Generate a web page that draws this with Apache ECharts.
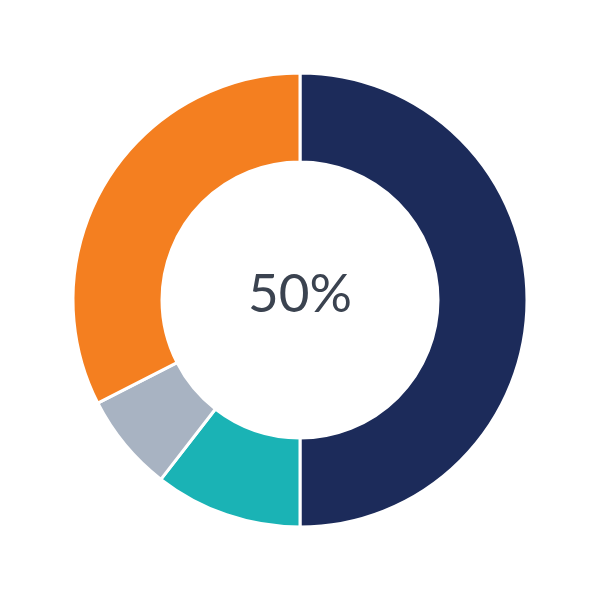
<!DOCTYPE html>
<html>
<head>
<meta charset="utf-8">
<script src="https://cdn.jsdelivr.net/npm/echarts@6/dist/echarts.min.js"></script>
<style>
    html, body { margin: 0; padding: 0; background: #fff; }
    #chart { width: 600px; height: 600px; }
</style>
</head>
<body>
<div id="chart"></div>
<script>
// 各分段数值（顺时针，从顶部开始）
const names = ['A', 'B', 'C', 'D'];
const values = [50, 10.5, 7, 32.5];
const colors = ['#1c2b5a', '#1ab3b5', '#a8b3c2', '#f47f20'];
const centerText = '50%';

let myChart = echarts.init(document.getElementById('chart'));
myChart.setOption({
    animation: false,
    graphic: [{
        type: 'text',
        left: 'center',
        top: 268,
        style: {
            text: centerText,
            fontSize: 53,
            fontFamily: 'Lato',
            fill: '#3b4350'
        }
    }],
    series: [{
        type: 'pie',
        center: [300, 300],
        radius: [138, 227],
        startAngle: 90,
        clockwise: true,
        label: { show: false },
        labelLine: { show: false },
        emphasis: { disabled: true },
        itemStyle: { borderColor: '#fff', borderWidth: 3 },
        data: names.map((n, i) => ({ name: n, value: values[i], itemStyle: { color: colors[i] } }))
    }]
});
</script>
</body>
</html>
